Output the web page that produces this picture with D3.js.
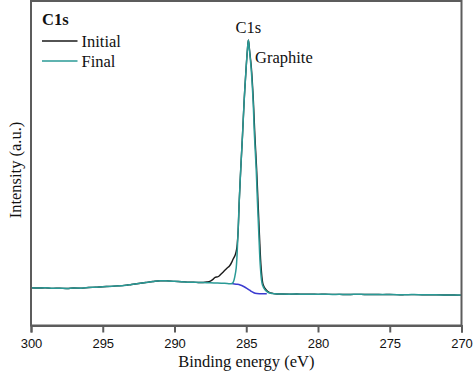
<!DOCTYPE html>
<html>
<head>
<meta charset="utf-8">
<script src="https://cdn.jsdelivr.net/npm/d3@7"></script>
<style>
  html, body { margin: 0; padding: 0; background: #fff; }
  svg { display: block; }
</style>
</head>
<body>
<svg id="chart" width="474" height="372"></svg>
<script>
// ---------- data ----------
const xTicks = [300, 295, 290, 285, 280, 275, 270];
const xTitle = "Binding energy (eV)";
const yTitle = "Intensity (a.u.)";
const legendTitle = "C1s";
const seriesNames = ["Initial", "Final"];
const peakLabel = "C1s";
const componentLabel = "Graphite";

// shared baseline segments
const baseLeftBE  = [300, 299.5, 299, 298.5, 298, 297.5, 297, 296.5, 296, 295.5, 295, 294.5, 294, 293.5, 293, 292.5, 292, 291.5, 291, 290.5, 290, 289.5, 289, 288.5, 288];
const baseLeftInt = [11.65, 11.55, 11.6, 11.45, 11.5, 11.4, 11.55, 11.5, 11.7, 11.8, 11.95, 12.05, 12.2, 12.35, 12.65, 12.95, 13.25, 13.55, 13.8, 13.75, 13.6, 13.5, 13.35, 13.3, 13.25];
const baseRightBE  = [283.0, 282.5, 282, 281.5, 281, 280.5, 280, 279.5, 279, 278.5, 278, 277.5, 277, 276.5, 276, 275.5, 275, 274.5, 274, 273.5, 273, 272.5, 272, 271.5, 271, 270.5, 270];
const baseRightInt = [9.8, 9.7, 9.65, 9.7, 9.62, 9.66, 9.6, 9.63, 9.58, 9.6, 9.55, 9.6, 9.6, 9.55, 9.57, 9.52, 9.55, 9.5, 9.5, 9.52, 9.5, 9.47, 9.45, 9.43, 9.4, 9.38, 9.35];

// Final (teal) peak region
const finalPeakBE  = [287.5, 287, 286.5, 286.0, 285.89, 285.80, 285.70, 285.58, 285.49, 285.38, 285.26, 285.15, 285.01, 284.92, 284.85, 284.78, 284.66, 284.52, 284.43, 284.31, 284.22, 284.12, 284.01, 283.87, 283.68, 283.47, 283.2];
const finalPeakInt = [13.15, 13.1, 13.0, 12.94, 13.5, 15.0, 17.72, 27.89, 38.15, 48.54, 58.71, 68.97, 79.27, 84.9, 87.99, 84.9, 79.27, 68.97, 58.71, 48.54, 38.15, 27.89, 17.72, 12.48, 10.94, 10.17, 9.86];

// Initial (black) peak region, with the low-energy shoulder on the left
const initialPeakBE  = [287.75, 287.5, 287.3, 287.17, 287.0, 286.89, 286.75, 286.59, 286.45, 286.33, 286.2, 286.12, 286.0, 285.91, 285.77, 285.67, 285.62, 285.56, 285.49, 285.38, 285.26, 285.15, 285.01, 284.92, 284.85, 284.77, 284.64, 284.50, 284.40, 284.28, 284.18, 284.08, 283.96, 283.82, 283.62, 283.40, 283.15];
const initialPeakInt = [13.4, 13.7, 14.3, 14.85, 15.0, 15.25, 15.9, 16.58, 17.2, 17.72, 18.2, 18.64, 19.6, 20.5, 21.73, 23.5, 25.5, 29.5, 38.15, 48.54, 58.71, 68.97, 79.27, 84.9, 87.99, 84.9, 79.27, 68.97, 58.71, 48.54, 38.15, 27.89, 17.72, 12.6, 11.0, 10.2, 9.9];

// Shirley-type background (blue)
const backgroundBE  = [286.0, 285.70, 285.42, 285.18, 284.96, 284.76, 284.61, 284.38, 284.03, 283.57];
const backgroundInt = [12.94, 12.73, 12.48, 12.02, 11.46, 10.88, 10.42, 9.92, 9.77, 9.8];

// ---------- build series ----------
const zip = (a, b) => a.map((v, i) => ({ be: v, y: b[i] }));
const finalData = zip(baseLeftBE, baseLeftInt).concat(zip(finalPeakBE, finalPeakInt), zip(baseRightBE, baseRightInt));
const initialData = zip(baseLeftBE, baseLeftInt).concat(zip(initialPeakBE, initialPeakInt), zip(baseRightBE, baseRightInt));
const backgroundData = zip(backgroundBE, backgroundInt);

// ---------- layout ----------
const svg = d3.select("#chart");
const mLeft = 31, mRight = 461.5, mTop = 1, mBottom = 325.5;

const x = d3.scaleLinear().domain([300, 270]).range([mLeft, mRight]);
const y = d3.scaleLinear().domain([0, 100]).range([mBottom, mTop]);

const teal = "#2a9a96";
const black = "#1a1a1a";
const blue = "#3a3ad0";
const frame = "#5c5c5c";

const line = d3.line().x(d => x(d.be)).y(d => y(d.y)).curve(d3.curveCatmullRom.alpha(0.5));

const plot = svg.append("g");
plot.append("path").datum(initialData).attr("d", line)
  .attr("fill", "none").attr("stroke", black).attr("stroke-width", 1.4);
plot.append("path").datum(backgroundData).attr("d", line)
  .attr("fill", "none").attr("stroke", blue).attr("stroke-width", 1.5);
plot.append("path").datum(finalData).attr("d", line)
  .attr("fill", "none").attr("stroke", teal).attr("stroke-width", 1.5);

// frame
svg.append("rect").attr("x", mLeft).attr("y", mTop)
  .attr("width", mRight - mLeft).attr("height", mBottom - mTop)
  .attr("fill", "none").attr("stroke", frame).attr("stroke-width", 2);

// x axis
const xAxis = d3.axisBottom(x).tickValues(xTicks).tickSize(7).tickPadding(6).tickFormat(d3.format("d"));
const gx = svg.append("g").attr("transform", `translate(0,${mBottom})`).call(xAxis);
gx.select(".domain").attr("stroke", frame).attr("stroke-width", 2);
gx.selectAll(".tick line").attr("stroke", frame).attr("stroke-width", 2);
gx.selectAll(".tick text").attr("font-family", "Liberation Sans, Arial, sans-serif")
  .attr("font-size", 13).attr("fill", "#111");

// axis titles
const serif = "Liberation Serif, Times New Roman, serif";
svg.append("text").attr("x", (mLeft + mRight) / 2).attr("y", 367)
  .attr("text-anchor", "middle").attr("font-family", serif)
  .attr("font-size", 16.5).attr("fill", "#111").text(xTitle);
svg.append("text").attr("transform", `translate(20.5,170) rotate(-90)`)
  .attr("text-anchor", "middle").attr("font-family", serif)
  .attr("font-size", 16.5).attr("fill", "#111").text(yTitle);

// legend
svg.append("text").attr("x", 42).attr("y", 25).attr("font-family", serif)
  .attr("font-weight", "bold").attr("font-size", 16.5).attr("fill", "#111").text(legendTitle);
const legColors = [black, teal];
seriesNames.forEach((name, i) => {
  const ly = 41 + i * 20;
  svg.append("line").attr("x1", 42).attr("x2", 77.5).attr("y1", ly).attr("y2", ly)
    .attr("stroke", legColors[i]).attr("stroke-width", 1.5);
  svg.append("text").attr("x", 81.5).attr("y", ly + 5.5).attr("font-family", serif)
    .attr("font-size", 16.5).attr("fill", "#111").text(name);
});

// peak annotations
svg.append("text").attr("x", x(284.85)).attr("y", 33).attr("text-anchor", "middle")
  .attr("font-family", serif).attr("font-size", 16.5).attr("fill", "#111").text(peakLabel);
svg.append("text").attr("x", 255).attr("y", 63)
  .attr("font-family", serif).attr("font-size", 16.5).attr("fill", "#111").text(componentLabel);
</script>
</body>
</html>
